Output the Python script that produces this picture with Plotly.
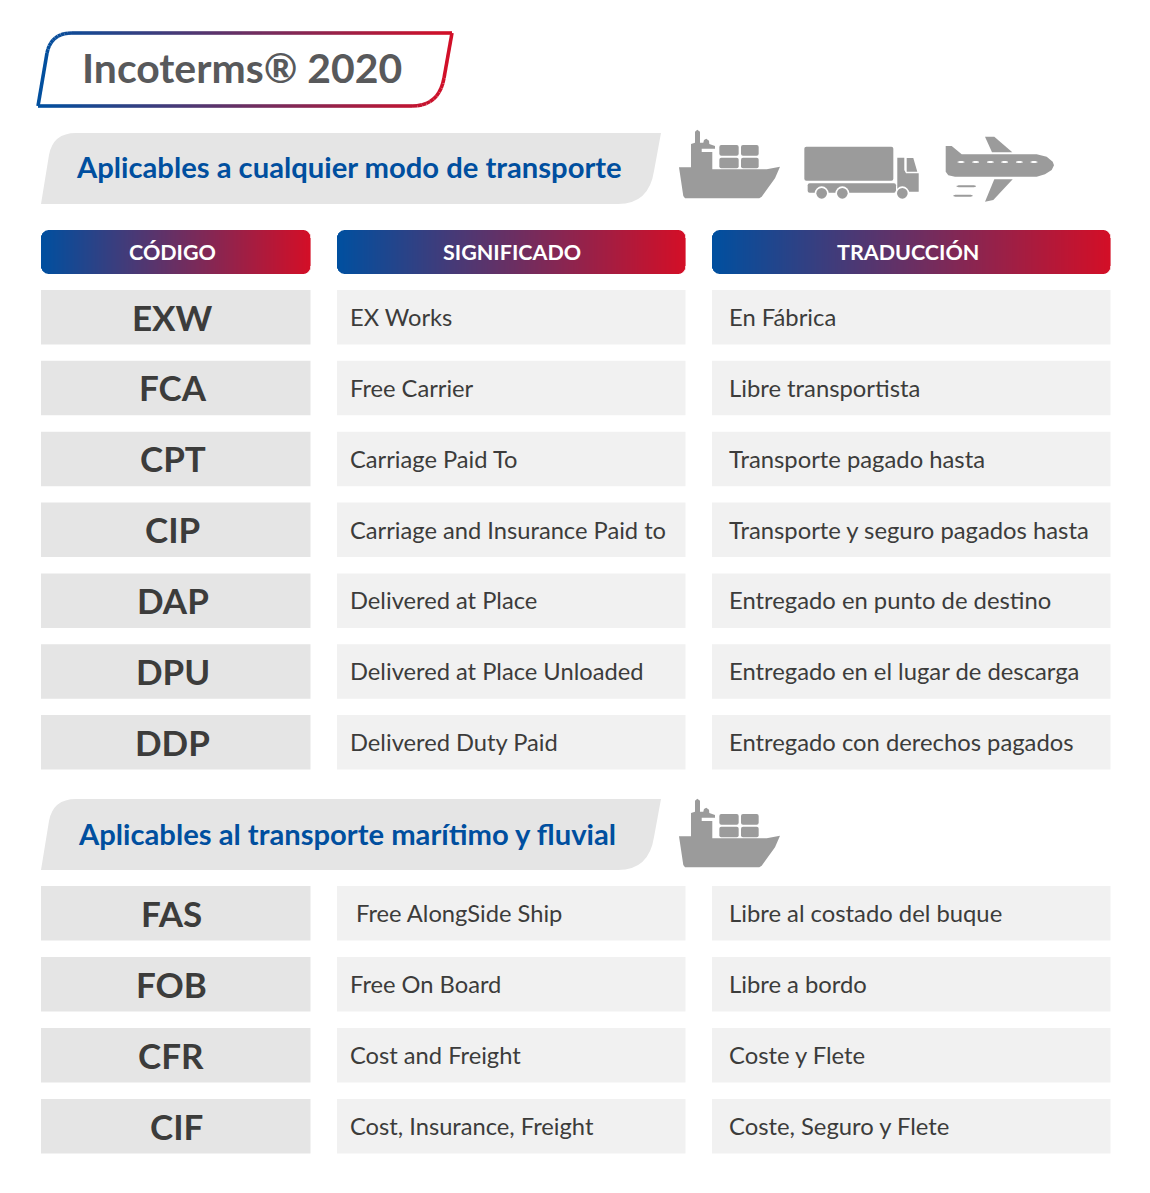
import math
import plotly.graph_objects as go

# table contents
codes_any = ["EXW", "FCA", "CPT", "CIP", "DAP", "DPU", "DDP"]
meaning_any = ["EX Works", "Free Carrier", "Carriage Paid To", "Carriage and Insurance Paid to",
               "Delivered at Place", "Delivered at Place Unloaded", "Delivered Duty Paid"]
spanish_any = ["En Fábrica", "Libre transportista", "Transporte pagado hasta",
               "Transporte y seguro pagados hasta", "Entregado en punto de destino",
               "Entregado en el lugar de descarga", "Entregado con derechos pagados"]

codes_sea = ["FAS", "FOB", "CFR", "CIF"]
meaning_sea = ["Free AlongSide Ship", "Free On Board", "Cost and Freight", "Cost, Insurance, Freight"]
spanish_sea = ["Libre al costado del buque", "Libre a bordo", "Coste y Flete", "Coste, Seguro y Flete"]

headers = ["CÓDIGO", "SIGNIFICADO", "TRADUCCIÓN"]
title = "Incoterms® 2020"
band_any = "Aplicables a cualquier modo de transporte"
band_sea = "Aplicables al transporte marítimo y fluvial"

W, H = 1150, 1193
FONT = "Lato"
BLUE = (0, 80, 160)
RED = (212, 15, 39)
ICON = "#9b9b9b"
columns = [(41, 310.5), (337, 685.5), (712, 1110.5)]
header_centres = [172.5, 512, 908]

shapes = []
annotations = []


def mix(t):
    t = max(0, min(1, t))
    return "rgb(%d,%d,%d)" % tuple(BLUE[i] + (RED[i] - BLUE[i]) * t for i in range(3))


def rect(x0, y0, x1, y1, color):
    shapes.append(dict(type="rect", x0=x0, y0=y0, x1=x1, y1=y1, fillcolor=color, line_width=0, layer="below"))


def path(d, color):
    shapes.append(dict(type="path", path=d, fillcolor=color, line_width=0, layer="below"))


def text(x, y, s, size, color, anchor="left", weight=400):
    annotations.append(dict(x=x, y=y, text=s, showarrow=False, xanchor=anchor, yanchor="middle",
                            borderpad=0, borderwidth=0,
                            font=dict(family=FONT, size=size, color=color, weight=weight)))


def gradient_header(x0, x1, y0, y1, r=8):
    # thin slices, shortened near the ends so the corners come out round
    x = x0
    while x < x1:
        mid = x + 0.5
        inset = 0
        d = min(mid - x0, x1 - mid)
        if d < r:
            inset = r - math.sqrt(r * r - (r - d) ** 2)
        rect(x, y0 + inset, min(x + 1.2, x1), y1 - inset, mix((mid - x0) / (x1 - x0)))
        x += 1


def band(y):
    path(f"M41 {y+71} L49 {y+22} Q53 {y} 76 {y} L661 {y} L654 {y+38} Q649 {y+71} 618 {y+71} Z", "#e5e5e5")


def rows(top, codes, meaning, spanish, step):
    for i in range(len(codes)):
        y0 = top + i * step
        rect(columns[0][0], y0, columns[0][1], y0 + 54.5, "#e5e5e5")
        rect(columns[1][0], y0, columns[1][1], y0 + 54.5, "#f1f1f1")
        rect(columns[2][0], y0, columns[2][1], y0 + 54.5, "#f1f1f1")
        shift = {"CIF": 3, "FAS": -2, "FOB": -2, "CFR": -2}.get(codes[i], -0.5)
        text(173 + shift, y0 + 26.5, codes[i], 35, "#3c3c3b", "center", 700)
        text(356 if meaning[i].startswith("Free Along") else 350, y0 + 27, meaning[i], 23.7, "#3c3c3b")
        text(729, y0 + 27, spanish[i], 23.8, "#3c3c3b")


def icon_xy(zx, zy, dx, dy):
    return 660 + zx / 3 + dx, 120 + zy / 3 + dy


def icon_path(points, dx=0, dy=0, color=ICON):
    d = ""
    for n, (zx, zy) in enumerate(points):
        px, py = icon_xy(zx, zy, dx, dy)
        d += ("M" if n == 0 else "L") + f"{px:.1f} {py:.1f} "
    path(d + "Z", color)


def icon_box(zx0, zy0, zx1, zy1, dx=0, dy=0, color=ICON):
    x0, y0 = icon_xy(zx0, zy0, dx, dy)
    x1, y1 = icon_xy(zx1, zy1, dx, dy)
    r = 2
    path(f"M{x0+r} {y0} L{x1-r} {y0} Q{x1} {y0} {x1} {y0+r} L{x1} {y1-r} Q{x1} {y1} {x1-r} {y1} "
         f"L{x0+r} {y1} Q{x0} {y1} {x0} {y1-r} L{x0} {y0+r} Q{x0} {y0} {x0+r} {y0} Z", color)


def icon_circle(zx, zy, zr, color=ICON):
    cx, cy = icon_xy(zx, zy, 0, 0)
    shapes.append(dict(type="circle", x0=cx - zr / 3, y0=cy - zr / 3, x1=cx + zr / 3, y1=cy + zr / 3,
                       fillcolor=color, line_width=0, layer="below"))


def ship(dy=0):
    icon_path([(57, 142), (93, 142), (93, 72), (105, 68), (105, 35), (112, 29), (120, 35), (120, 68),
               (130, 68), (132, 60), (139, 56), (147, 62), (148, 72), (165, 78), (165, 86), (125, 86),
               (125, 96), (157, 96), (157, 148), (320, 148), (360, 140), (345, 175), (305, 230),
               (298, 235), (75, 235), (70, 228)], 0, dy)
    icon_box(178, 75, 236, 107, 0, dy)
    icon_box(243, 75, 296, 107, 0, dy)
    icon_box(178, 113, 236, 145, 0, dy)
    icon_box(243, 113, 296, 145, 0, dy)


def truck():
    icon_box(433, 80, 700, 182)
    icon_box(443, 190, 708, 218)
    icon_path([(712, 113), (733, 113), (733, 150), (738, 160), (776, 160), (776, 215), (712, 215)])
    icon_path([(740, 114), (760, 114), (772, 155), (740, 155)])
    for cx in (485, 547, 727):
        icon_circle(cx, 220, 21, "white")
        icon_circle(cx, 220, 16)


def plane():
    body = [(857, 78), (875, 78), (905, 103), (1130, 103), (1160, 110), (1178, 125), (1182, 136),
            (1175, 150), (1155, 163), (1130, 170), (885, 170), (865, 166), (857, 155)]
    icon_path(body)
    icon_path([(975, 50), (1003, 50), (1057, 97), (996, 97)])
    icon_path([(1003, 178), (1058, 178), (1000, 240), (975, 245)])
    for zx in (893, 937, 981, 1024, 1068, 1112):
        icon_box(zx, 123, zx + 20, 129, color="white")
    icon_box(890, 196, 948, 202)
    icon_box(880, 224, 938, 230)


# title frame, coloured piece by piece from left to right
frame = [(38, 106), (47, 53)]
for a in range(0, 11):
    t = a / 10
    frame.append(((1 - t) ** 2 * 47 + 2 * t * (1 - t) * 51 + t * t * 72,
                  (1 - t) ** 2 * 53 + 2 * t * (1 - t) * 33 + t * t * 33))
for a in range(1, 39):
    frame.append((72 + a * 10, 33))
frame.append((452, 33))
frame.append((444, 78))
for a in range(1, 11):
    t = a / 10
    frame.append(((1 - t) ** 2 * 444 + 2 * t * (1 - t) * 439 + t * t * 412,
                  (1 - t) ** 2 * 78 + 2 * t * (1 - t) * 106 + t * t * 106))
for a in range(1, 38):
    frame.append((412 - a * 10, 106))
frame.append((38, 106))
for p, q in zip(frame[:-1], frame[1:]):
    shapes.append(dict(type="line", x0=p[0], y0=p[1], x1=q[0], y1=q[1], layer="below",
                       line=dict(color=mix(((p[0] + q[0]) / 2 - 38) / 414), width=3.6)))
text(81.5, 67, title, 40.9, "#58595b", "left", 700)

band(133)
text(76, 166.5, band_any, 29.2, "#004f9f", "left", 700)
ship()
truck()
plane()

for (x0, x1), h, c in zip(columns, headers, header_centres):
    gradient_header(x0, x1, 230, 274)
    text(c, 252, h, 21.5, "white", "center", 700)

rows(290, codes_any, meaning_any, spanish_any, 70.85)

band(799)
text(78, 833.5, band_sea, 29.2, "#004f9f", "left", 700)
ship(669)

rows(886, codes_sea, meaning_sea, spanish_sea, 71)

fig = go.Figure()
fig.update_layout(width=W, height=H, margin=dict(l=0, r=0, t=0, b=0), paper_bgcolor="white",
                  plot_bgcolor="white", showlegend=False, shapes=shapes, annotations=annotations,
                  xaxis=dict(range=[0, W], visible=False, fixedrange=True),
                  yaxis=dict(range=[H, 0], visible=False, fixedrange=True))

fig.write_html("out.html", config={"displayModeBar": False},
               post_script="document.body.style.margin='0';")
